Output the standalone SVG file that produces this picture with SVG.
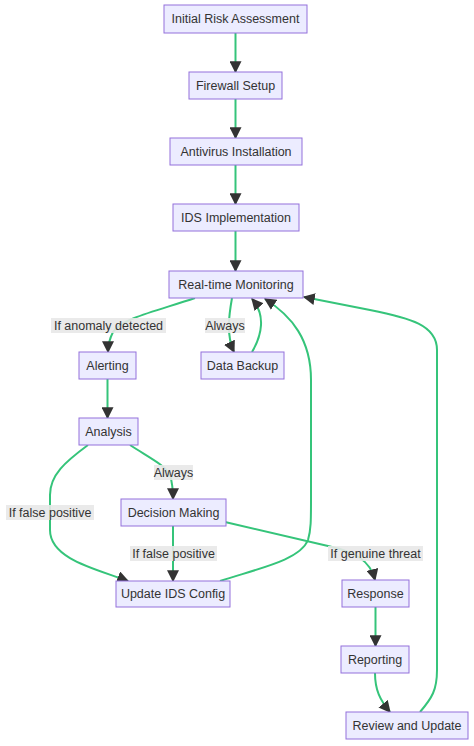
<svg xmlns="http://www.w3.org/2000/svg" width="474" height="746" viewBox="0 0 474 746">
<style>
.node rect{fill:#ECECFF;stroke:#9370DB;stroke-width:1}
.node text,.lbl text{font-family:"Liberation Sans",Arial,sans-serif;font-size:12.5px;fill:#333;text-anchor:middle;dominant-baseline:central}
.edge{fill:none;stroke:#35c47a;stroke-width:2}
.lbl rect{fill:#e8e8e8;opacity:0.9}
</style>
<defs>
<marker id="arr" markerUnits="userSpaceOnUse" markerWidth="12" markerHeight="12" viewBox="0 0 10 10" refX="9" refY="5" orient="auto">
<path d="M0,0 L10,5 L0,10 z" fill="#333"/>
</marker>
</defs>
<rect width="474" height="746" fill="#fff"/>
<g id="edges">
<path class="edge" d="M235.5,33 L235.5,72" marker-end="url(#arr)"/>
<path class="edge" d="M235.5,99 L235.5,138" marker-end="url(#arr)"/>
<path class="edge" d="M235.5,165 L235.5,204" marker-end="url(#arr)"/>
<path class="edge" d="M235.5,231 L235.5,271" marker-end="url(#arr)"/>
<path class="edge" d="M195,298 C160,310 122,318 113,332 C109,340 108,346 108,352" marker-end="url(#arr)"/>
<path class="edge" d="M232,298 C229,315 226,335 234,352" marker-end="url(#arr)"/>
<path class="edge" d="M252,352 C262,335 266,315 252,299" marker-end="url(#arr)"/>
<path class="edge" d="M220,581 C260,568 300,560 308,540 C311,530 311,520 311,500 L311,380 C311,340 292,316 265,299" marker-end="url(#arr)"/>
<path class="edge" d="M420,712 C432,698 437,690 437,670 L437,350 C437,325 410,318 370,310 L304,297" marker-end="url(#arr)"/>
<path class="edge" d="M107.5,379 L107.5,418" marker-end="url(#arr)"/>
<path class="edge" d="M130,445 C150,458 165,465 170,475 C173,485 173,492 173,499" marker-end="url(#arr)"/>
<path class="edge" d="M88,445 C65,462 50,475 50,495 L50,530 C50,560 100,570 128,581" marker-end="url(#arr)"/>
<path class="edge" d="M173,526 L173,581" marker-end="url(#arr)"/>
<path class="edge" d="M225,522 L328,546 C355,552 370,560 375,580" marker-end="url(#arr)"/>
<path class="edge" d="M375.5,607 L375.5,646" marker-end="url(#arr)"/>
<path class="edge" d="M375,673 C375,690 380,700 390,712" marker-end="url(#arr)"/>
</g>
<g id="edge-labels">
<g class="lbl"><rect x="51" y="318" width="115" height="15"/><text x="108.5" y="325.5">If anomaly detected</text></g>
<g class="lbl"><rect x="205" y="318" width="40" height="15"/><text x="225" y="325.5">Always</text></g>
<g class="lbl"><rect x="154" y="465" width="39" height="15"/><text x="173.5" y="472.5">Always</text></g>
<g class="lbl"><rect x="6" y="505" width="88" height="15"/><text x="50" y="512.5">If false positive</text></g>
<g class="lbl"><rect x="130" y="546" width="87" height="15"/><text x="173.5" y="553.5">If false positive</text></g>
<g class="lbl"><rect x="328" y="546" width="95" height="15"/><text x="375.5" y="553.5">If genuine threat</text></g>
</g>
<g id="n-initial" class="node"><rect x="164" y="5" width="143" height="28"/><text x="235.5" y="19">Initial Risk Assessment</text></g>
<g id="n-firewall" class="node"><rect x="189" y="72" width="93" height="27"/><text x="235.5" y="85.5">Firewall Setup</text></g>
<g id="n-antivirus" class="node"><rect x="170" y="138" width="132" height="27"/><text x="236" y="151.5">Antivirus Installation</text></g>
<g id="n-ids" class="node"><rect x="173" y="204" width="126" height="27"/><text x="236" y="217.5">IDS Implementation</text></g>
<g id="n-monitor" class="node"><rect x="169" y="271" width="134" height="27"/><text x="236" y="284.5">Real-time Monitoring</text></g>
<g id="n-alerting" class="node"><rect x="79" y="352" width="57" height="27"/><text x="107.5" y="365.5">Alerting</text></g>
<g id="n-backup" class="node"><rect x="201" y="352" width="83" height="27"/><text x="242.5" y="365.5">Data Backup</text></g>
<g id="n-analysis" class="node"><rect x="79" y="418" width="59" height="27"/><text x="108.5" y="431.5">Analysis</text></g>
<g id="n-decision" class="node"><rect x="121" y="499" width="105" height="27"/><text x="173.5" y="512.5">Decision Making</text></g>
<g id="n-update" class="node"><rect x="116" y="581" width="114" height="26"/><text x="173" y="594">Update IDS Config</text></g>
<g id="n-response" class="node"><rect x="342" y="580" width="67" height="27"/><text x="375.5" y="593.5">Response</text></g>
<g id="n-reporting" class="node"><rect x="341" y="646" width="68" height="27"/><text x="375" y="659.5">Reporting</text></g>
<g id="n-review" class="node"><rect x="346" y="712" width="122" height="27"/><text x="407" y="725.5">Review and Update</text></g>
</svg>
